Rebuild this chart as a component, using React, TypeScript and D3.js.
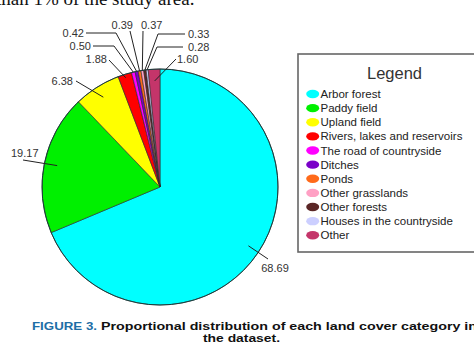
import React from 'react';
import * as d3 from 'd3';

const categories = [
  'Arbor forest',
  'Paddy field',
  'Upland field',
  'Rivers, lakes and reservoirs',
  'The road of countryside',
  'Ditches',
  'Ponds',
  'Other grasslands',
  'Other forests',
  'Houses in the countryside',
  'Other',
];
const shares = [68.69, 19.17, 6.38, 1.88, 0.5, 0.42, 0.39, 0.37, 0.33, 0.28, 1.6];
const valueLabels = ['68.69', '19.17', '6.38', '1.88', '0.50', '0.42', '0.39', '0.37', '0.33', '0.28', '1.60'];
const colors = [
  '#00ffff', '#00f000', '#ffff00', '#ff0000', '#ff00ff', '#7a00c8',
  '#ff6a1a', '#ffa0c4', '#5a2626', '#cccfff', '#c4356a',
];

// label placement: where the leader line leaves the pie (fraction of radius),
// optional elbow, end of line, and text anchor
type LabelPos = { r: number; elbow?: [number, number]; end: [number, number]; tx: number; ty: number; anchor: string };
const labelLayout: LabelPos[] = [
  { r: 0.9, end: [268, 259], tx: 275, ty: 272, anchor: 'middle' },
  { r: 0.89, end: [23, 160], tx: 11, ty: 157, anchor: 'start' },
  { r: 0.9, end: [76, 81], tx: 73, ty: 85, anchor: 'end' },
  { r: 0.97, end: [109, 60], tx: 107, ty: 63, anchor: 'end' },
  { r: 1.0, elbow: [114, 46], end: [93, 46], tx: 91, ty: 50, anchor: 'end' },
  { r: 1.0, elbow: [116, 33], end: [86, 33], tx: 84, ty: 37, anchor: 'end' },
  { r: 1.0, end: [130, 31], tx: 133, ty: 29, anchor: 'end' },
  { r: 1.0, end: [143, 31], tx: 141, ty: 29, anchor: 'start' },
  { r: 1.0, elbow: [158, 34], end: [185, 34], tx: 188, ty: 38, anchor: 'start' },
  { r: 1.0, elbow: [157, 47], end: [183, 47], tx: 188, ty: 50.5, anchor: 'start' },
  { r: 0.9, end: [176, 59], tx: 177, ty: 63, anchor: 'start' },
];

export default function App() {
  const width = 474;
  const height = 352;
  const cx = 160;
  const cy = 187;
  const radius = 118;
  const font = 'Liberation Sans, Arial, sans-serif';

  const data = categories.map((c, i) => ({ name: c, value: shares[i], color: colors[i], label: valueLabels[i] }));
  const pie = d3.pie<typeof data[number]>().sort(null).value(d => d.value);
  const arcs = pie(data);
  const arc = d3.arc<d3.PieArcDatum<typeof data[number]>>().innerRadius(0).outerRadius(radius);

  const pointAt = (a: d3.PieArcDatum<any>, frac: number): [number, number] => {
    const mid = (a.startAngle + a.endAngle) / 2;
    return [cx + Math.sin(mid) * radius * frac, cy - Math.cos(mid) * radius * frac];
  };

  const legendY = d3.scaleLinear().domain([0, categories.length - 1]).range([94, 235.3]);

  return (
    <svg width={width} height={height} style={{ position: 'absolute', left: 0, top: 0, background: '#fff' }}>
      {/* cut-off text from the paper above */}
      <text x={-4} y={5} fontFamily="Liberation Serif, Times New Roman, serif" fontSize={19} fill="#111">
        than 1% of the study area.
      </text>

      {/* Pie */}
      <g transform={`translate(${cx},${cy})`}>
        {arcs.map((a, i) => (
          <path key={i} d={arc(a) || ''} fill={a.data.color} stroke="#2a2a2a" strokeWidth={0.6} />
        ))}
        <circle r={radius} fill="none" stroke="#1c3c3c" strokeWidth={1} />
      </g>

      {/* Leader lines and value labels */}
      {arcs.map((a, i) => {
        const l = labelLayout[i];
        const p0 = pointAt(a, l.r);
        const pts = [p0, ...(l.elbow ? [l.elbow] : []), l.end];
        return (
          <g key={`lab-${i}`}>
            <polyline points={pts.map(p => p.join(',')).join(' ')} fill="none" stroke="#222" strokeWidth={1} />
            <text x={l.tx} y={l.ty} textAnchor={l.anchor} fontFamily={font} fontSize={11} fill="#333">
              {a.data.label}
            </text>
          </g>
        );
      })}

      {/* Legend */}
      <rect x={298} y={54} width={190} height={198} fill="#fff" stroke="#666" strokeWidth={1.6} />
      <text x={394.5} y={78.5} textAnchor="middle" fontFamily={font} fontSize={16.5} fill="#333">
        Legend
      </text>
      {data.map((d, i) => (
        <g key={`leg-${i}`}>
          <ellipse cx={312.7} cy={legendY(i)} rx={6.5} ry={4.2} fill={d.color} />
          <text x={320.5} y={legendY(i) + 4} fontFamily={font} fontSize={11.5} fill="#222">
            {d.name}
          </text>
        </g>
      ))}

      {/* Caption */}
      <text x={32} y={330} fontFamily={font} fontSize={11.5} fontWeight="bold" fill="#1d6ea6"
        textLength={65} lengthAdjust="spacingAndGlyphs">
        FIGURE 3.
      </text>
      <text x={101} y={330} fontFamily={font} fontSize={11.5} fontWeight="bold" fill="#111"
        textLength={376} lengthAdjust="spacingAndGlyphs">
        Proportional distribution of each land cover category in
      </text>
      <text x={203} y={341.5} fontFamily={font} fontSize={11.5} fontWeight="bold" fill="#111"
        textLength={77} lengthAdjust="spacingAndGlyphs">
        the dataset.
      </text>
    </svg>
  );
}
